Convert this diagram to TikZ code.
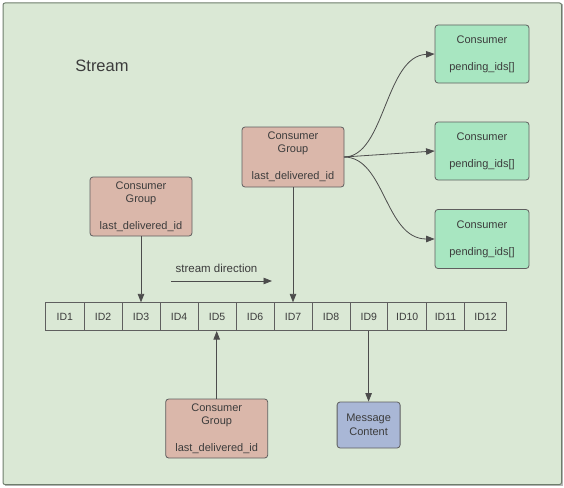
\documentclass[tikz,border=0pt]{standalone}
\usepackage{fontspec}
\setmainfont{Liberation Sans}
\usetikzlibrary{arrows.meta}
\definecolor{bgc}{RGB}{218,232,213}
\definecolor{frc}{RGB}{110,125,108}
\definecolor{cgc}{RGB}{218,183,170}
\definecolor{csc}{RGB}{168,230,193}
\definecolor{mcc}{RGB}{169,183,214}
\definecolor{bdc}{RGB}{95,95,95}
\definecolor{txc}{RGB}{60,60,60}
\tikzset{
  box/.style={draw=bdc, line width=0.8pt, rounded corners=3pt, align=center, text=txc,
    inner sep=0pt, font=\fontsize{11}{13.5}\selectfont},
  cgbox/.style={box, fill=cgc, minimum width=102pt, minimum height=59pt},
  csbox/.style={box, fill=csc, minimum width=94pt, minimum height=58pt},
  mcbox/.style={box, fill=mcc, minimum width=63pt, minimum height=46pt},
  idbox/.style={draw=bdc, line width=0.7pt, fill=bgc, minimum height=28pt,
    inner sep=0pt, text=txc, font=\fontsize{10.5}{12}\selectfont},
  conn/.style={draw=bdc!80!black, line width=0.8pt, -{Triangle[length=8.5pt,width=6.5pt]}},
}
\begin{document}
\begin{tikzpicture}[x=1pt,y=-1pt]
\useasboundingbox (0,0) rectangle (564,487);
\fill[gray!55] (4.5,4.5) rectangle (563,486);
\draw[frc, fill=bgc, line width=1pt, rounded corners=2pt] (3,3) rectangle (561.5,484.5);
\node[text=txc, font=\fontsize{16.5}{18}\selectfont] (stream) at (102,66) {Stream};

% ID row
\foreach \i/\l/\r in {1/45.7/84, 2/84/122.3, 3/122.3/160, 4/160/198.3, 5/198.3/236, 6/236/274,
  7/274/312.3, 8/312.3/350, 9/350/387.7, 10/387.7/426.7, 11/426.7/464.3, 12/464.3/506.7} {
  \node[idbox, minimum width={(\r-\l)*1pt}] (id\i) at ({(\l+\r)/2},316.7) {ID\i};
}

% consumer groups
\node[cgbox] (cg1) at (141,206.5) {Consumer\\Group\\[13.5pt]last\_delivered\_id};
\node[cgbox, minimum height=60pt] (cg2) at (293,157) {Consumer\\Group\\[13.5pt]last\_delivered\_id};
\node[cgbox] (cg3) at (216.7,428.5) {Consumer\\Group\\[13.5pt]last\_delivered\_id};

% consumers
\node[csbox] (c1) at (482,54) {Consumer\\[13.5pt]pending\_ids[]};
\node[csbox] (c2) at (482,151) {Consumer\\[13.5pt]pending\_ids[]};
\node[csbox, minimum height=59pt] (c3) at (482,239) {Consumer\\[13.5pt]pending\_ids[]};

% message content
\node[mcbox] (mc) at (368.6,425) {Message\\Content};

% stream direction
\node[text=txc, font=\fontsize{11.5}{12}\selectfont] (sdl) at (216.5,268) {stream direction};
\coordinate (sda) at (171,281);
\coordinate (sdb) at (272,281);
\draw[conn] (sda) -- (sdb);

% connectors
\draw[conn] (cg1.south) -- (cg1.south |- id3.north);
\draw[conn] (cg2.south) -- (cg2.south |- id7.north);
\draw[conn] (cg3.north) -- (cg3.north |- id5.south);
\draw[conn] (mc.north |- id9.south) -- (mc.north);

\coordinate (cgo) at (344,157);
\draw[conn] (cgo) .. controls (385,157) and (385,56) .. (c1.west);
\draw[conn] (cgo) -- (c2.west);
\draw[conn] (cgo) .. controls (385,157) and (385,239) .. (c3.west);
\end{tikzpicture}
\end{document}
